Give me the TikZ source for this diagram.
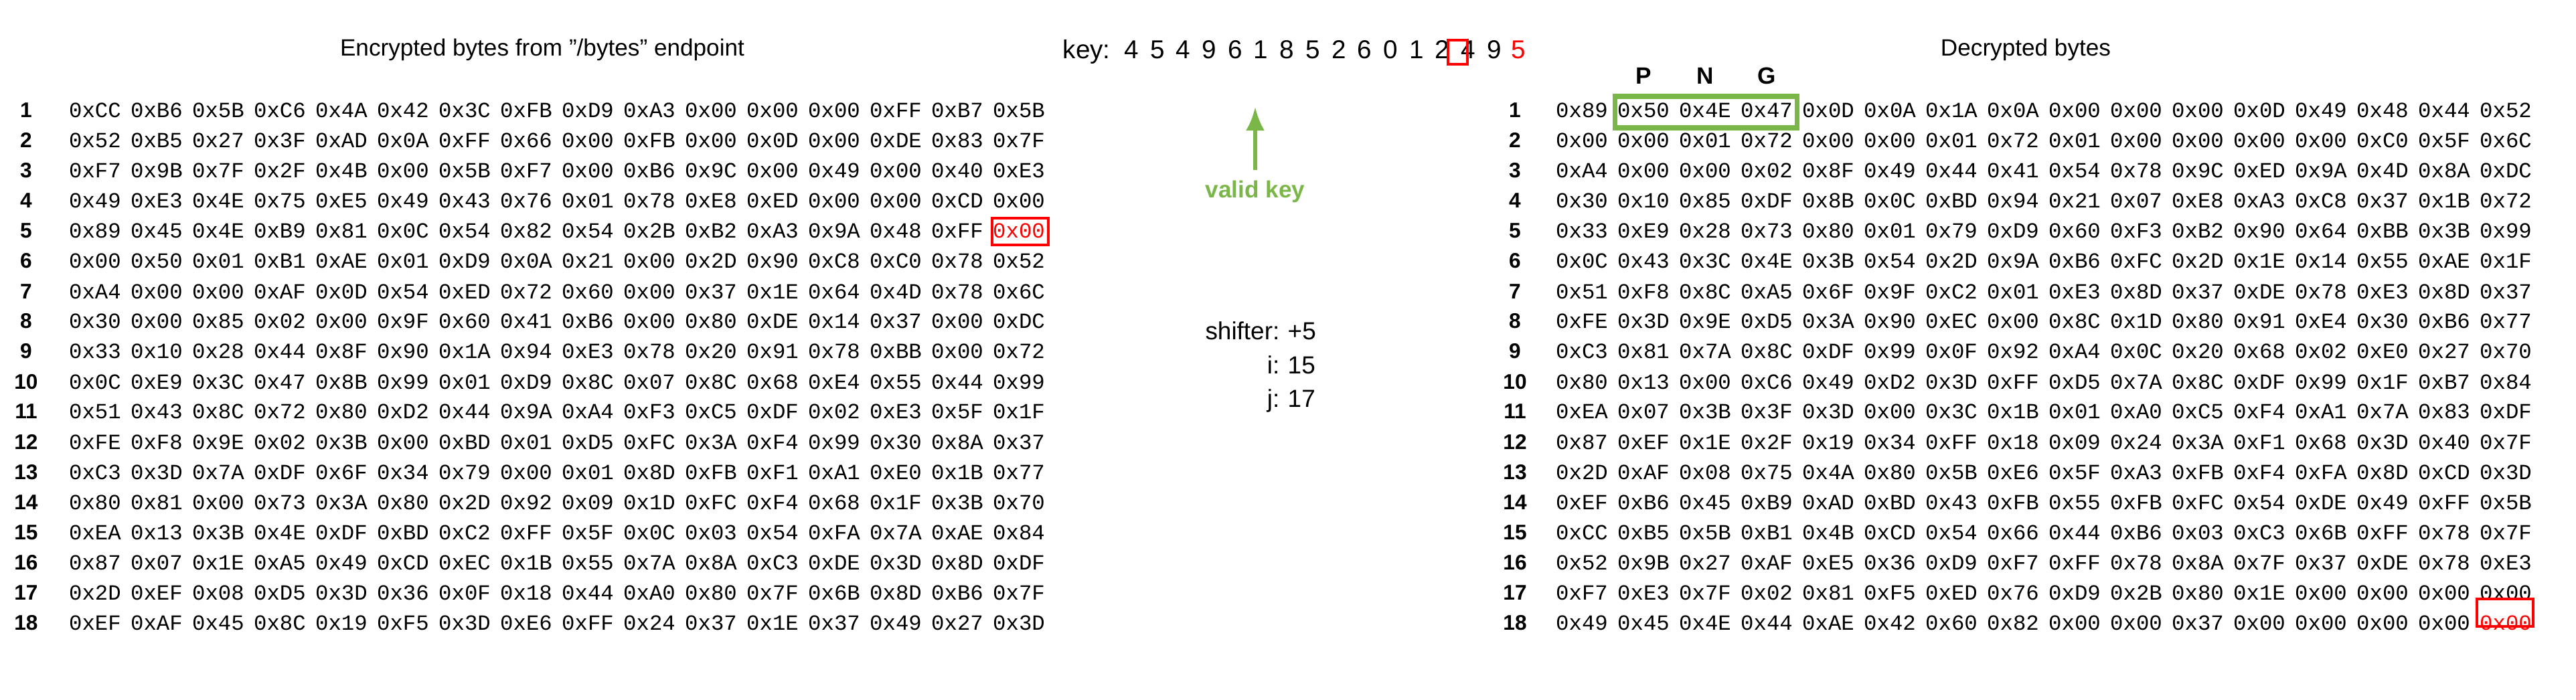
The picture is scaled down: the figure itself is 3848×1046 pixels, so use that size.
\documentclass[tikz,border=0pt]{standalone}
\usepackage{fontspec}
\setmainfont{Liberation Sans}
\setmonofont{Liberation Mono}
\usetikzlibrary{arrows.meta}
\definecolor{kgreen}{HTML}{7AB648}
\definecolor{kred}{HTML}{FF0000}
\begin{document}
\begin{tikzpicture}[x=0.01cm,y=-0.01cm,
  cell/.style={font=\ttfamily\fontsize{9.2}{10}\selectfont,inner sep=0pt,anchor=base},
  rowlab/.style={font=\bfseries\fontsize{9}{10}\selectfont,inner sep=0pt,anchor=base},
  title/.style={font=\fontsize{10}{12}\selectfont,inner sep=0pt,anchor=base},
  hl/.style={draw=kred,line width=1.1pt},
  hlg/.style={draw=kgreen,line width=2pt}]
\useasboundingbox (0,0) rectangle (3848,1046);
\node[title] (t1) at (810,84) {Encrypted bytes from "/bytes" endpoint};
\node[title] (t2) at (3026,84) {Decrypted bytes};
% left table
\foreach \vals [count=\r] in {
{CC,B6,5B,C6,4A,42,3C,FB,D9,A3,00,00,00,FF,B7,5B},
{52,B5,27,3F,AD,0A,FF,66,00,FB,00,0D,00,DE,83,7F},
{F7,9B,7F,2F,4B,00,5B,F7,00,B6,9C,00,49,00,40,E3},
{49,E3,4E,75,E5,49,43,76,01,78,E8,ED,00,00,CD,00},
{89,45,4E,B9,81,0C,54,82,54,2B,B2,A3,9A,48,FF,00},
{00,50,01,B1,AE,01,D9,0A,21,00,2D,90,C8,C0,78,52},
{A4,00,00,AF,0D,54,ED,72,60,00,37,1E,64,4D,78,6C},
{30,00,85,02,00,9F,60,41,B6,00,80,DE,14,37,00,DC},
{33,10,28,44,8F,90,1A,94,E3,78,20,91,78,BB,00,72},
{0C,E9,3C,47,8B,99,01,D9,8C,07,8C,68,E4,55,44,99},
{51,43,8C,72,80,D2,44,9A,A4,F3,C5,DF,02,E3,5F,1F},
{FE,F8,9E,02,3B,00,BD,01,D5,FC,3A,F4,99,30,8A,37},
{C3,3D,7A,DF,6F,34,79,00,01,8D,FB,F1,A1,E0,1B,77},
{80,81,00,73,3A,80,2D,92,09,1D,FC,F4,68,1F,3B,70},
{EA,13,3B,4E,DF,BD,C2,FF,5F,0C,03,54,FA,7A,AE,84},
{87,07,1E,A5,49,CD,EC,1B,55,7A,8A,C3,DE,3D,8D,DF},
{2D,EF,08,D5,3D,36,0F,18,44,A0,80,7F,6B,8D,B6,7F},
{EF,AF,45,8C,19,F5,3D,E6,FF,24,37,1E,37,49,27,3D}} {
  \node[rowlab] (lr\r) at (39,{167+45*(\r-1)+9}) {\r};
  \foreach \v [count=\c] in \vals {
    \ifnum\numexpr\r*100+\c\relax=516 \def\tc{kred}\else\def\tc{black}\fi
    \node[cell,text=\tc] (l\r-\c) at ({142+92*(\c-1)},{167+45*(\r-1)+9}) {0x\v};
  }
}
% right table
\foreach \vals [count=\r] in {
{89,50,4E,47,0D,0A,1A,0A,00,00,00,0D,49,48,44,52},
{00,00,01,72,00,00,01,72,01,00,00,00,00,C0,5F,6C},
{A4,00,00,02,8F,49,44,41,54,78,9C,ED,9A,4D,8A,DC},
{30,10,85,DF,8B,0C,BD,94,21,07,E8,A3,C8,37,1B,72},
{33,E9,28,73,80,01,79,D9,60,F3,B2,90,64,BB,3B,99},
{0C,43,3C,4E,3B,54,2D,9A,B6,FC,2D,1E,14,55,AE,1F},
{51,F8,8C,A5,6F,9F,C2,01,E3,8D,37,DE,78,E3,8D,37},
{FE,3D,9E,D5,3A,90,EC,00,8C,1D,80,91,E4,30,B6,77},
{C3,81,7A,8C,DF,99,0F,92,A4,0C,20,68,02,E0,27,70},
{80,13,00,C6,49,D2,3D,FF,D5,7A,8C,DF,99,1F,B7,84},
{EA,07,3B,3F,3D,00,3C,1B,01,A0,C5,F4,A1,7A,83,DF},
{87,EF,1E,2F,19,34,FF,18,09,24,3A,F1,68,3D,40,7F},
{2D,AF,08,75,4A,80,5B,E6,5F,A3,FB,F4,FA,8D,CD,3D},
{EF,B6,45,B9,AD,BD,43,FB,55,FB,FC,54,DE,49,FF,5B},
{CC,B5,5B,B1,4B,CD,54,66,44,B6,03,C3,6B,FF,78,7F},
{52,9B,27,AF,E5,36,D9,F7,FF,78,8A,7F,37,DE,78,E3},
{F7,E3,7F,02,81,F5,ED,76,D9,2B,80,1E,00,00,00,00},
{49,45,4E,44,AE,42,60,82,00,00,37,00,00,00,00,00}} {
  \node[rowlab] (rr\r) at (2263,{167+45*(\r-1)+9}) {\r};
  \foreach \v [count=\c] in \vals {
    \ifnum\numexpr\r*100+\c\relax=1816 \def\tc{kred}\else\def\tc{black}\fi
    \node[cell,text=\tc] (r\r-\c) at ({2363+92*(\c-1)},{167+45*(\r-1)+9}) {0x\v};
  }
}
% highlights
\draw[hl] (1482,326) rectangle (1566,366);
\draw[hl] (3700,895) rectangle (3784,936);
\draw[hlg] (2412,144) rectangle (2684,191);
\node[rowlab,font=\bfseries\fontsize{10}{12}\selectfont] (pP) at (2455,126) {P};
\node[rowlab,font=\bfseries\fontsize{10}{12}\selectfont] (pN) at (2547,126) {N};
\node[rowlab,font=\bfseries\fontsize{10}{12}\selectfont] (pG) at (2639,126) {G};
% key
\node[inner sep=0pt,anchor=base west,font=\fontsize{11}{13}\selectfont] (key) at (1587,88)
  {key:\, 4\, 5\, 4\, 9\, 6\, 1\, 8\, 5\, 2\, 6\, 0\, 1\, 2\, 4\, 9\,};
\node[inner sep=0pt,anchor=base west,font=\fontsize{11}{13}\selectfont,text=kred] (k5) at (key.base east) {\,5};
\draw[hl] (2163,60) rectangle (2192,96);
\coordinate (atip) at (1875,160);
\node[inner sep=0pt,anchor=base,text=kgreen,font=\bfseries\fontsize{10}{12}\selectfont] (valid) at (1875,296) {valid key};
\draw[kgreen,line width=1.6pt,-{Latex[length=10pt,width=8pt]}] (valid.north) ++(0,-16) -- (atip);
% shifter
\node[inner sep=0pt,anchor=base east,font=\fontsize{10.5}{12}\selectfont] (s1) at (1912,508) {shifter:};
\node[inner sep=0pt,anchor=base west,font=\fontsize{10.5}{12}\selectfont] (s1v) at (1923,508) {+5};
\node[inner sep=0pt,anchor=base east,font=\fontsize{10.5}{12}\selectfont] (s2) at (1912,558) {i:};
\node[inner sep=0pt,anchor=base west,font=\fontsize{10.5}{12}\selectfont] (s2v) at (1923,558) {15};
\node[inner sep=0pt,anchor=base east,font=\fontsize{10.5}{12}\selectfont] (s3) at (1912,608) {j:};
\node[inner sep=0pt,anchor=base west,font=\fontsize{10.5}{12}\selectfont] (s3v) at (1923,608) {17};
\end{tikzpicture}
\end{document}
